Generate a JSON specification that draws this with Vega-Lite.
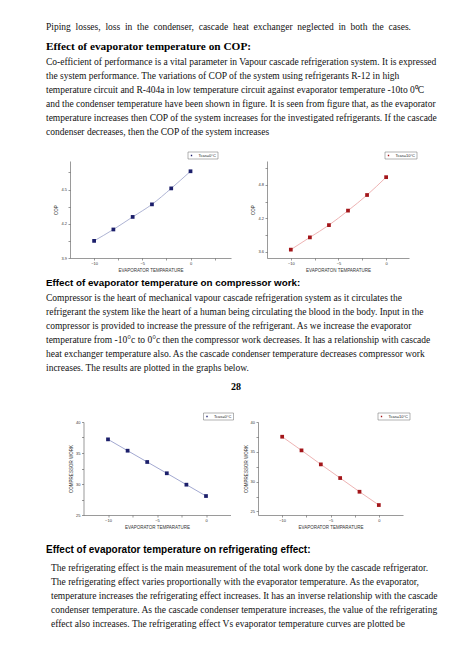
{
  "$schema": "https://vega.github.io/schema/vega-lite/v6.json",
  "background": "white",
  "padding": 0,
  "spacing": 0,
  "resolve": {"scale": {"color": "independent"}, "legend": {"color": "independent"}},
  "config": {
    "view": {"stroke": null},
    "axis": {"grid": false, "domainColor": "#555", "domainWidth": 0.6, "tickColor": "#555", "tickWidth": 0.6, "tickSize": 2, "labelFont": "Liberation Sans", "labelFontSize": 4, "labelColor": "#333", "labelPadding": 1.5, "labelOverlap": false, "labelFlush": false, "titleFont": "Liberation Sans", "titleFontSize": 4.5, "titleFontWeight": "normal", "titleColor": "#333", "titlePadding": 2},
    "legend": {"orient": "none", "title": null, "strokeColor": "#666", "strokeWidth": 0.5, "padding": 1.5, "labelFont": "Liberation Sans", "labelFontSize": 4, "labelColor": "#222", "labelOffset": 5, "symbolType": "M-1.7,0H1.7M-0.45,-0.45H0.45V0.45H-0.45Z", "symbolSize": 9, "symbolStrokeWidth": 0.6},
    "text": {"font": "Liberation Serif", "fontSize": 9.5, "color": "#111", "align": "left", "baseline": "middle"}
  },
  "datasets": {
    "blockA": [
      {"line": 0, "kind": "intro", "text": "Piping \u00a0losses, \u00a0loss \u00a0in \u00a0the \u00a0condenser, \u00a0cascade \u00a0heat \u00a0exchanger \u00a0neglected \u00a0in \u00a0both \u00a0the \u00a0cases."},
      {"line": 1, "kind": "head", "text": "Effect of evaporator temperature on COP:"},
      {"line": 2, "kind": "body", "text": "Co-efficient of performance is a vital parameter in Vapour cascade refrigeration system. It is expressed"},
      {"line": 3, "kind": "body", "text": "the system performance. The variations of COP of the system using refrigerants R-12 in high"},
      {"line": 4, "kind": "body", "text": "temperature circuit and R-404a in low temperature circuit against evaporator temperature -10to 0⁰C"},
      {"line": 5, "kind": "body", "text": "and the condenser temperature have been shown in figure. It is seen from figure that, as the evaporator"},
      {"line": 6, "kind": "body", "text": "temperature increases then COP of the system increases for the investigated refrigerants. If the cascade"},
      {"line": 7, "kind": "body", "text": "condenser decreases, then the COP of the system increases"}
    ],
    "blockB": [
      {"line": 0, "kind": "head", "text": "Effect of evaporator temperature on compressor work:"},
      {"line": 1, "kind": "body", "text": "Compressor is the heart of mechanical vapour cascade refrigeration system as it circulates the"},
      {"line": 2, "kind": "body", "text": "refrigerant the system like the heart of a human being circulating the blood in the body. Input in the"},
      {"line": 3, "kind": "body", "text": "compressor is provided to increase the pressure of the refrigerant. As we increase the evaporator"},
      {"line": 4, "kind": "body", "text": "temperature from -10°c to 0°c then the compressor work decreases. It has a relationship with cascade"},
      {"line": 5, "kind": "body", "text": "heat exchanger temperature also. As the cascade condenser temperature decreases compressor work"},
      {"line": 6, "kind": "body", "text": "increases. The results are plotted in the graphs below."},
      {"line": 7, "kind": "page", "text": "28"}
    ],
    "blockC": [
      {"line": 0, "kind": "head", "text": "Effect of evaporator temperature on refrigerating effect:"},
      {"line": 1, "kind": "body", "text": "The refrigerating effect is the main measurement of the total work done by the cascade refrigerator."},
      {"line": 2, "kind": "body", "text": "The refrigerating effect varies proportionally with the evaporator temperature. As the evaporator,"},
      {"line": 3, "kind": "body", "text": "temperature increases the refrigerating effect increases. It has an inverse relationship with the cascade"},
      {"line": 4, "kind": "body", "text": "condenser temperature. As the cascade condenser temperature increases, the value of the refrigerating"},
      {"line": 5, "kind": "body", "text": "effect also increases. The refrigerating effect Vs evaporator temperature curves are plotted be"}
    ],
    "cop0": [
      {"evap": -10, "cop": 4.05, "series": "Tcas=0°C"},
      {"evap": -8, "cop": 4.15, "series": "Tcas=0°C"},
      {"evap": -6, "cop": 4.26, "series": "Tcas=0°C"},
      {"evap": -4, "cop": 4.37, "series": "Tcas=0°C"},
      {"evap": -2, "cop": 4.51, "series": "Tcas=0°C"},
      {"evap": 0, "cop": 4.66, "series": "Tcas=0°C"}
    ],
    "cop10": [
      {"evap": -10, "cop": 3.64, "series": "Tcas=10°C"},
      {"evap": -8, "cop": 3.86, "series": "Tcas=10°C"},
      {"evap": -6, "cop": 4.08, "series": "Tcas=10°C"},
      {"evap": -4, "cop": 4.34, "series": "Tcas=10°C"},
      {"evap": -2, "cop": 4.62, "series": "Tcas=10°C"},
      {"evap": 0, "cop": 4.94, "series": "Tcas=10°C"}
    ],
    "cw0": [
      {"evap": -10, "work": 37.2, "series": "Tcas=0°C"},
      {"evap": -8, "work": 35.37, "series": "Tcas=0°C"},
      {"evap": -6, "work": 33.55, "series": "Tcas=0°C"},
      {"evap": -4, "work": 31.73, "series": "Tcas=0°C"},
      {"evap": -2, "work": 29.89, "series": "Tcas=0°C"},
      {"evap": 0, "work": 28.06, "series": "Tcas=0°C"}
    ],
    "cw10": [
      {"evap": -10, "work": 37.53, "series": "Tcas=10°C"},
      {"evap": -8, "work": 35.24, "series": "Tcas=10°C"},
      {"evap": -6, "work": 32.89, "series": "Tcas=10°C"},
      {"evap": -4, "work": 30.6, "series": "Tcas=10°C"},
      {"evap": -2, "work": 28.3, "series": "Tcas=10°C"},
      {"evap": 0, "work": 26.07, "series": "Tcas=10°C"}
    ]
  },
  "vconcat": [
    {
      "width": 474, "height": 151,
      "data": {"name": "blockA"},
      "encoding": {
        "y": {"field": "line", "type": "quantitative", "scale": {"domain": [-1.9286, 8.857], "reverse": true, "nice": false, "zero": false}, "axis": null},
        "x": {"value": 46},
        "text": {"field": "text"}
      },
      "layer": [
        {"transform": [{"filter": "datum.kind == 'intro'"}], "mark": {"type": "text"}},
        {"transform": [{"filter": "datum.kind == 'head'"}], "mark": {"type": "text", "fontSize": 11.3, "fontWeight": "bold", "dy": 6, "color": "#000"}},
        {"transform": [{"filter": "datum.kind == 'body'"}], "mark": {"type": "text", "dy": 7}}
      ]
    },
    {
      "spacing": 19,
      "resolve": {"scale": {"color": "independent"}, "legend": {"color": "independent"}},
      "hconcat": [
        {"width": 34, "height": 10, "data": {"values": []}, "mark": "point"},
        {
          "width": 161, "height": 97,
          "data": {"name": "cop0"},
          "encoding": {
            "x": {"field": "evap", "type": "quantitative", "scale": {"domain": [-12.5, 4.2], "nice": false, "zero": false}, "axis": {"title": "EVAPORATOR TEMPARATURE", "values": [-10, -7.5, -5, -2.5, 0, 2.5], "labelExpr": "datum.value % 5 == 0 ? format(datum.value, 'd') : ''"}},
            "y": {"field": "cop", "type": "quantitative", "scale": {"domain": [3.9, 4.75], "nice": false, "zero": false}, "axis": {"title": "COP", "values": [3.9, 4.05, 4.2, 4.35, 4.5, 4.65], "labelExpr": "indexof([3.9, 4.2, 4.5], datum.value) >= 0 ? format(datum.value, '.1f') : ''"}}
          },
          "layer": [
            {"mark": {"type": "line", "interpolate": "monotone", "color": "#98a0c8", "strokeWidth": 0.8}},
            {"mark": {"type": "point", "shape": "square", "filled": true, "size": 14, "opacity": 1},
             "encoding": {"color": {"field": "series", "type": "nominal", "scale": {"range": ["#1c1f6b"]}, "legend": {"legendX": 118, "legendY": -9, "encode": {"symbols": {"update": {"stroke": {"value": "#98a0c8"}, "strokeWidth": {"value": 0.6}}}}}}}}
          ]
        },
        {
          "width": 142, "height": 97,
          "data": {"name": "cop10"},
          "encoding": {
            "x": {"field": "evap", "type": "quantitative", "scale": {"domain": [-12.5, 2.4], "nice": false, "zero": false}, "axis": {"title": "EVAPORATON TEMPARATURE", "values": [-10, -7.5, -5, -2.5, 0], "labelExpr": "datum.value % 5 == 0 ? format(datum.value, 'd') : ''"}},
            "y": {"field": "cop", "type": "quantitative", "scale": {"domain": [3.49, 5.23], "nice": false, "zero": false}, "axis": {"title": "COP", "values": [3.6, 3.9, 4.2, 4.5, 4.8, 5.1], "labelExpr": "indexof([3.6, 4.2, 4.8], datum.value) >= 0 ? format(datum.value, '.1f') : ''"}}
          },
          "layer": [
            {"mark": {"type": "line", "interpolate": "monotone", "color": "#e8a0a0", "strokeWidth": 0.8}},
            {"mark": {"type": "point", "shape": "square", "filled": true, "size": 14, "opacity": 1},
             "encoding": {"color": {"field": "series", "type": "nominal", "scale": {"range": ["#a3161a"]}, "legend": {"legendX": 118, "legendY": -9, "encode": {"symbols": {"update": {"stroke": {"value": "#e8a0a0"}, "strokeWidth": {"value": 0.6}}}}}}}}
          ]
        }
      ]
    },
    {
      "width": 474, "height": 140,
      "data": {"name": "blockB"},
      "encoding": {
        "y": {"field": "line", "type": "quantitative", "scale": {"domain": [-0.786, 9.214], "reverse": true, "nice": false, "zero": false}, "axis": null},
        "text": {"field": "text"}
      },
      "layer": [
        {"transform": [{"filter": "datum.kind == 'head'"}], "mark": {"type": "text", "x": 46, "font": "Liberation Sans", "fontSize": 9.8, "fontWeight": "bold", "color": "#000"}},
        {"transform": [{"filter": "datum.kind == 'body'"}], "mark": {"type": "text", "x": 46, "dy": 1}},
        {"transform": [{"filter": "datum.kind == 'page'"}], "mark": {"type": "text", "x": 236, "align": "center", "fontWeight": "bold", "fontSize": 10, "dy": 6, "color": "#000"}}
      ]
    },
    {
      "spacing": 8.5,
      "resolve": {"scale": {"color": "independent"}, "legend": {"color": "independent"}},
      "hconcat": [
        {"width": 59.5, "height": 10, "data": {"values": []}, "mark": "point"},
        {
          "width": 147, "height": 93,
          "data": {"name": "cw0"},
          "encoding": {
            "x": {"field": "evap", "type": "quantitative", "scale": {"domain": [-12.5, 2.5], "nice": false, "zero": false}, "axis": {"title": "EVAPORATOR TEMPARATURE", "values": [-10, -7.5, -5, -2.5, 0], "labelExpr": "datum.value % 5 == 0 ? format(datum.value, 'd') : ''"}},
            "y": {"field": "work", "type": "quantitative", "scale": {"domain": [25, 40], "nice": false, "zero": false}, "axis": {"title": "COMPRESSOR WORK", "values": [25, 27.5, 30, 32.5, 35, 37.5, 40], "labelExpr": "datum.value % 5 == 0 ? format(datum.value, 'd') : ''"}}
          },
          "layer": [
            {"mark": {"type": "line", "color": "#8a92c4", "strokeWidth": 0.8}},
            {"mark": {"type": "point", "shape": "square", "filled": true, "size": 14, "opacity": 1},
             "encoding": {"color": {"field": "series", "type": "nominal", "scale": {"range": ["#1c1f6b"]}, "legend": {"legendX": 120, "legendY": -9, "encode": {"symbols": {"update": {"stroke": {"value": "#8a92c4"}, "strokeWidth": {"value": 0.6}}}}}}}}
          ]
        },
        {
          "width": 145, "height": 93,
          "data": {"name": "cw10"},
          "encoding": {
            "x": {"field": "evap", "type": "quantitative", "scale": {"domain": [-12.5, 2.5], "nice": false, "zero": false}, "axis": {"title": "EVAPORATOR TEMPARATURE", "values": [-10, -7.5, -5, -2.5, 0], "labelExpr": "datum.value % 5 == 0 ? format(datum.value, 'd') : ''"}},
            "y": {"field": "work", "type": "quantitative", "scale": {"domain": [24.4, 40], "nice": false, "zero": false}, "axis": {"title": "COMPRESSOR WORK", "values": [25, 27.5, 30, 32.5, 35, 37.5, 40], "labelExpr": "datum.value % 5 == 0 ? format(datum.value, 'd') : ''"}}
          },
          "layer": [
            {"mark": {"type": "line", "color": "#e8a0a0", "strokeWidth": 0.8}},
            {"mark": {"type": "point", "shape": "square", "filled": true, "size": 14, "opacity": 1},
             "encoding": {"color": {"field": "series", "type": "nominal", "scale": {"range": ["#a3161a"]}, "legend": {"legendX": 120, "legendY": -9, "encode": {"symbols": {"update": {"stroke": {"value": "#e8a0a0"}, "strokeWidth": {"value": 0.6}}}}}}}}
          ]
        }
      ]
    },
    {
      "width": 474, "height": 143,
      "data": {"name": "blockC"},
      "encoding": {
        "y": {"field": "line", "type": "quantitative", "scale": {"domain": [-1.5, 8.714], "reverse": true, "nice": false, "zero": false}, "axis": null},
        "text": {"field": "text"}
      },
      "layer": [
        {"transform": [{"filter": "datum.kind == 'head'"}], "mark": {"type": "text", "x": 46, "font": "Liberation Sans", "fontSize": 10, "fontWeight": "bold", "color": "#000"}},
        {"transform": [{"filter": "datum.kind == 'body'"}], "mark": {"type": "text", "x": 51, "dy": 4}}
      ]
    }
  ]
}
